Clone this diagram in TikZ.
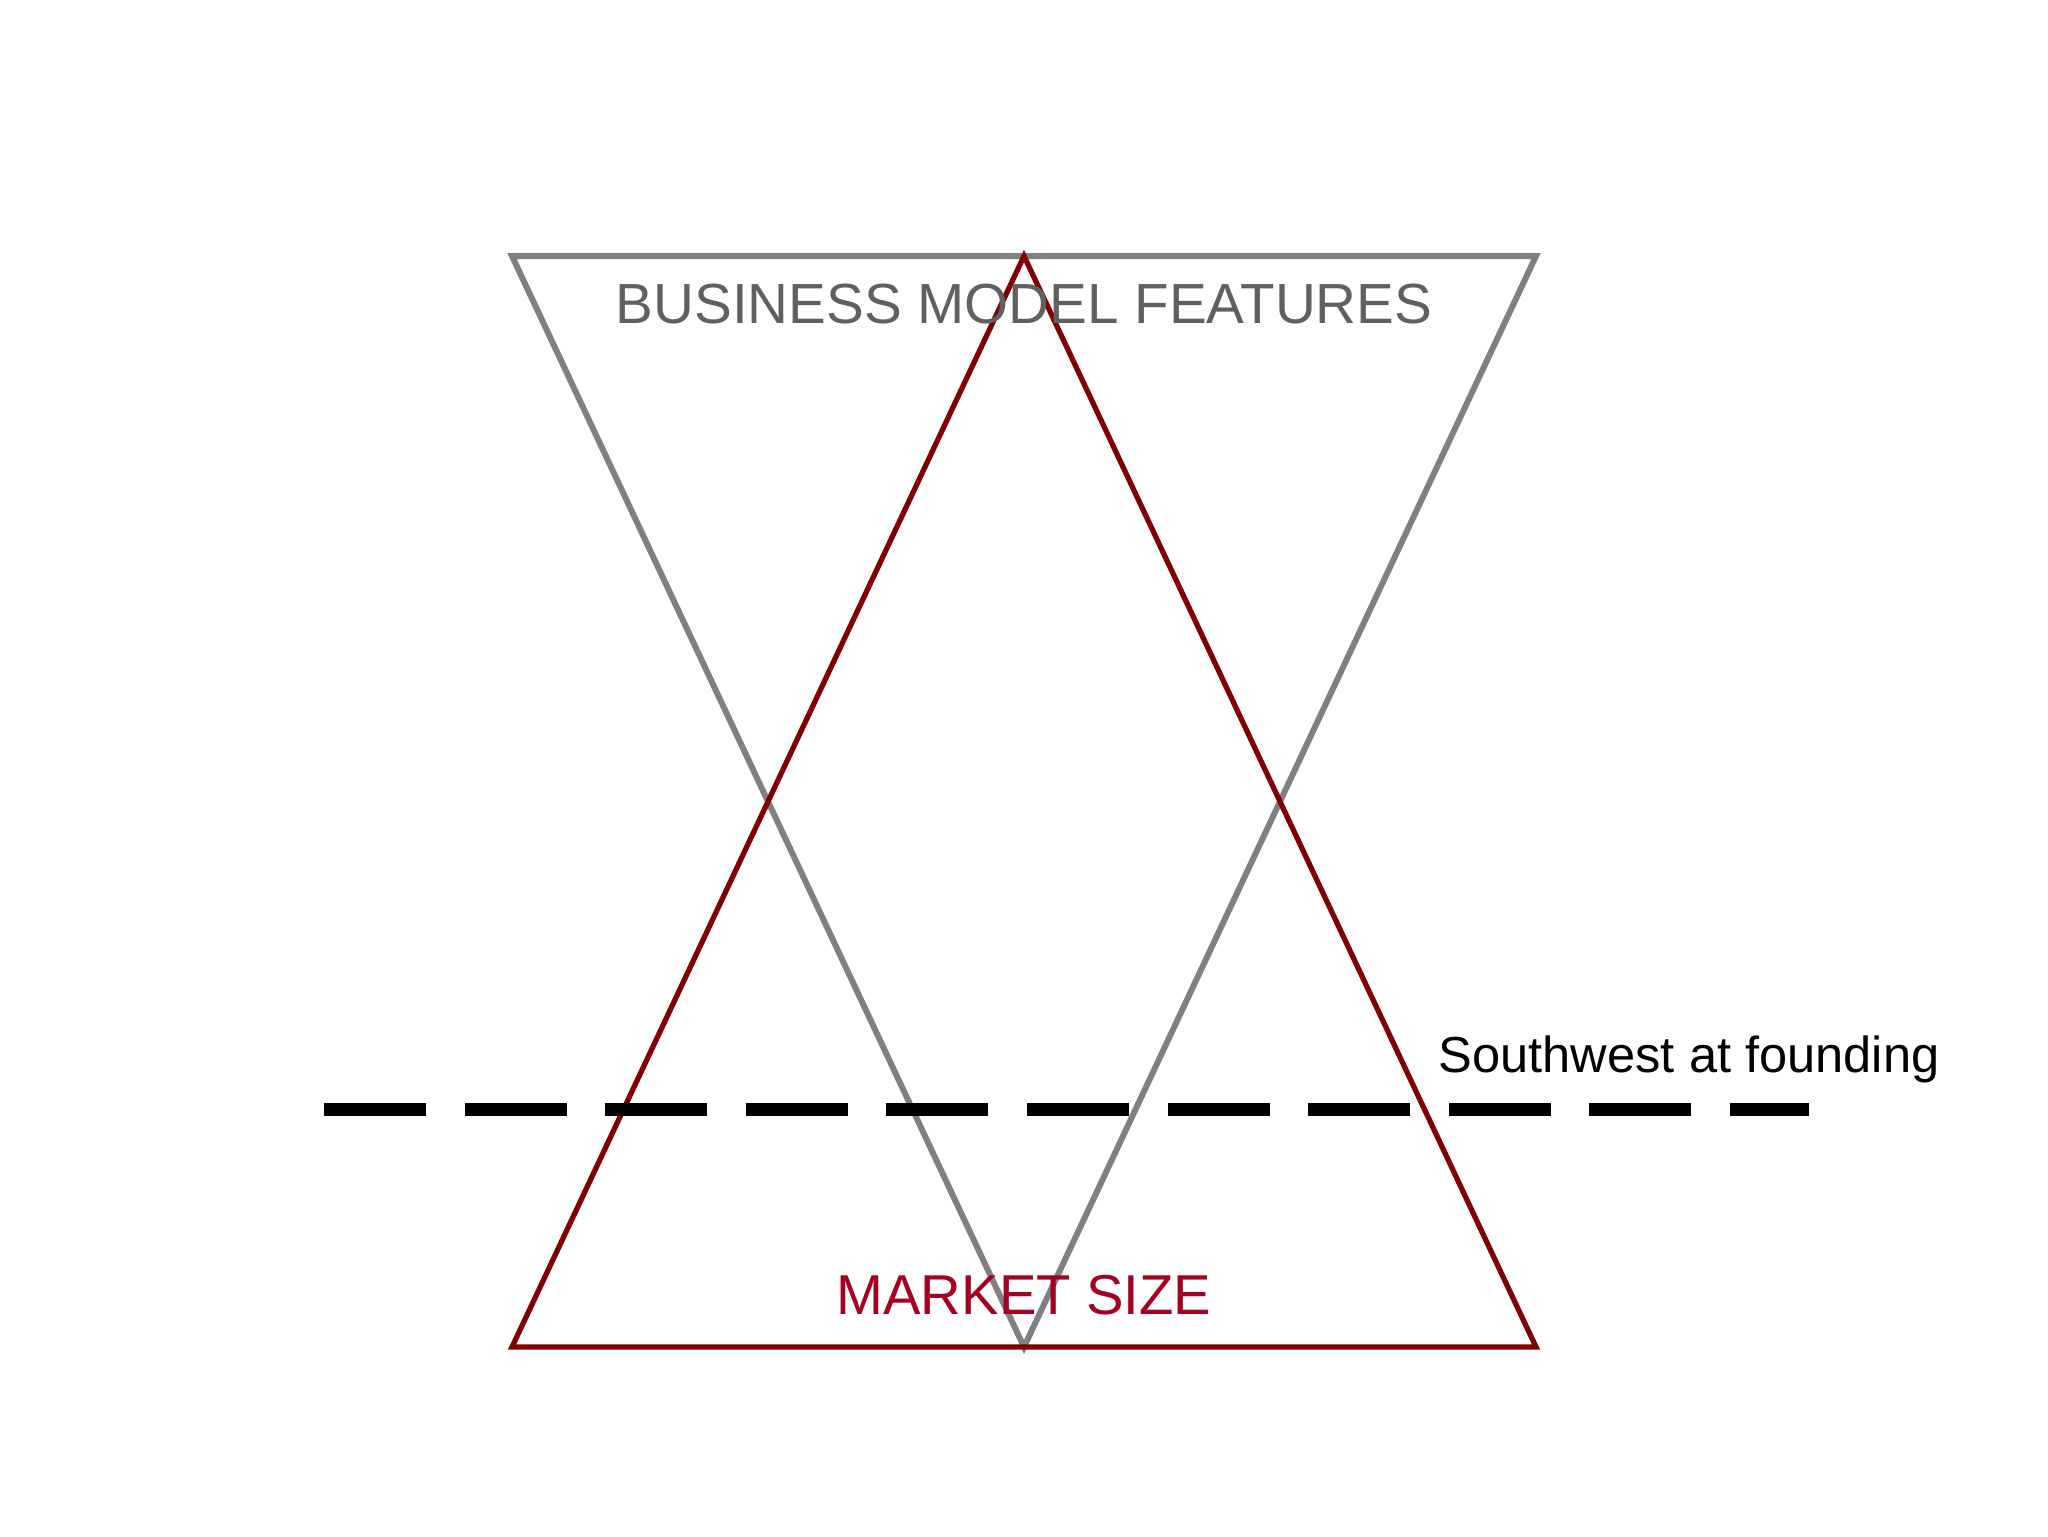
\documentclass[tikz,border=0pt]{standalone}
\usepackage{fontspec}
\setmainfont{Liberation Sans}
\definecolor{edgegray}{RGB}{128,128,128}
\definecolor{textgray}{RGB}{96,96,96}
\definecolor{edgered}{RGB}{128,0,0}
\definecolor{textred}{RGB}{165,0,33}
\tikzset{fm/.style={draw=edgegray, line width=1.7pt, line join=miter},
         mk/.style={draw=edgered, line width=1.5pt, line join=miter},
         lbl/.style={inner sep=0pt, anchor=base}}

\begin{document}
\begin{tikzpicture}[x=0.1mm, y=-0.1mm]
\useasboundingbox (0,0) rectangle (2048,1536);
\coordinate (tl) at (512,256);
\coordinate (tr) at (1536,256);
\coordinate (tm) at (1024,256);
\coordinate (bl) at (512,1347);
\coordinate (br) at (1536,1347);
\coordinate (bm) at (1024,1347);
\draw[fm] (tl) -- (tr) -- (bm) -- cycle;
\draw[mk] (bl) -- (br) -- (tm) -- cycle;
\node[lbl, text=textgray, font=\fontsize{16.1}{19}\selectfont] (bmf) at (1024,323) {BUSINESS MODEL FEATURES};
\node[lbl, text=textred, font=\fontsize{16}{19}\selectfont] (ms) at (1024,1314) {MARKET SIZE};
\coordinate (dl) at (324,1109);
\coordinate (dr) at (1809,1109);
\draw[line width=3.7pt, dash pattern=on 10.2mm off 3.86mm] (dl) -- (dr);
\node[lbl, anchor=base west, font=\fontsize{14.4}{17}\selectfont] (sw) at (1438,1072) {Southwest at founding};
\end{tikzpicture}
\end{document}
